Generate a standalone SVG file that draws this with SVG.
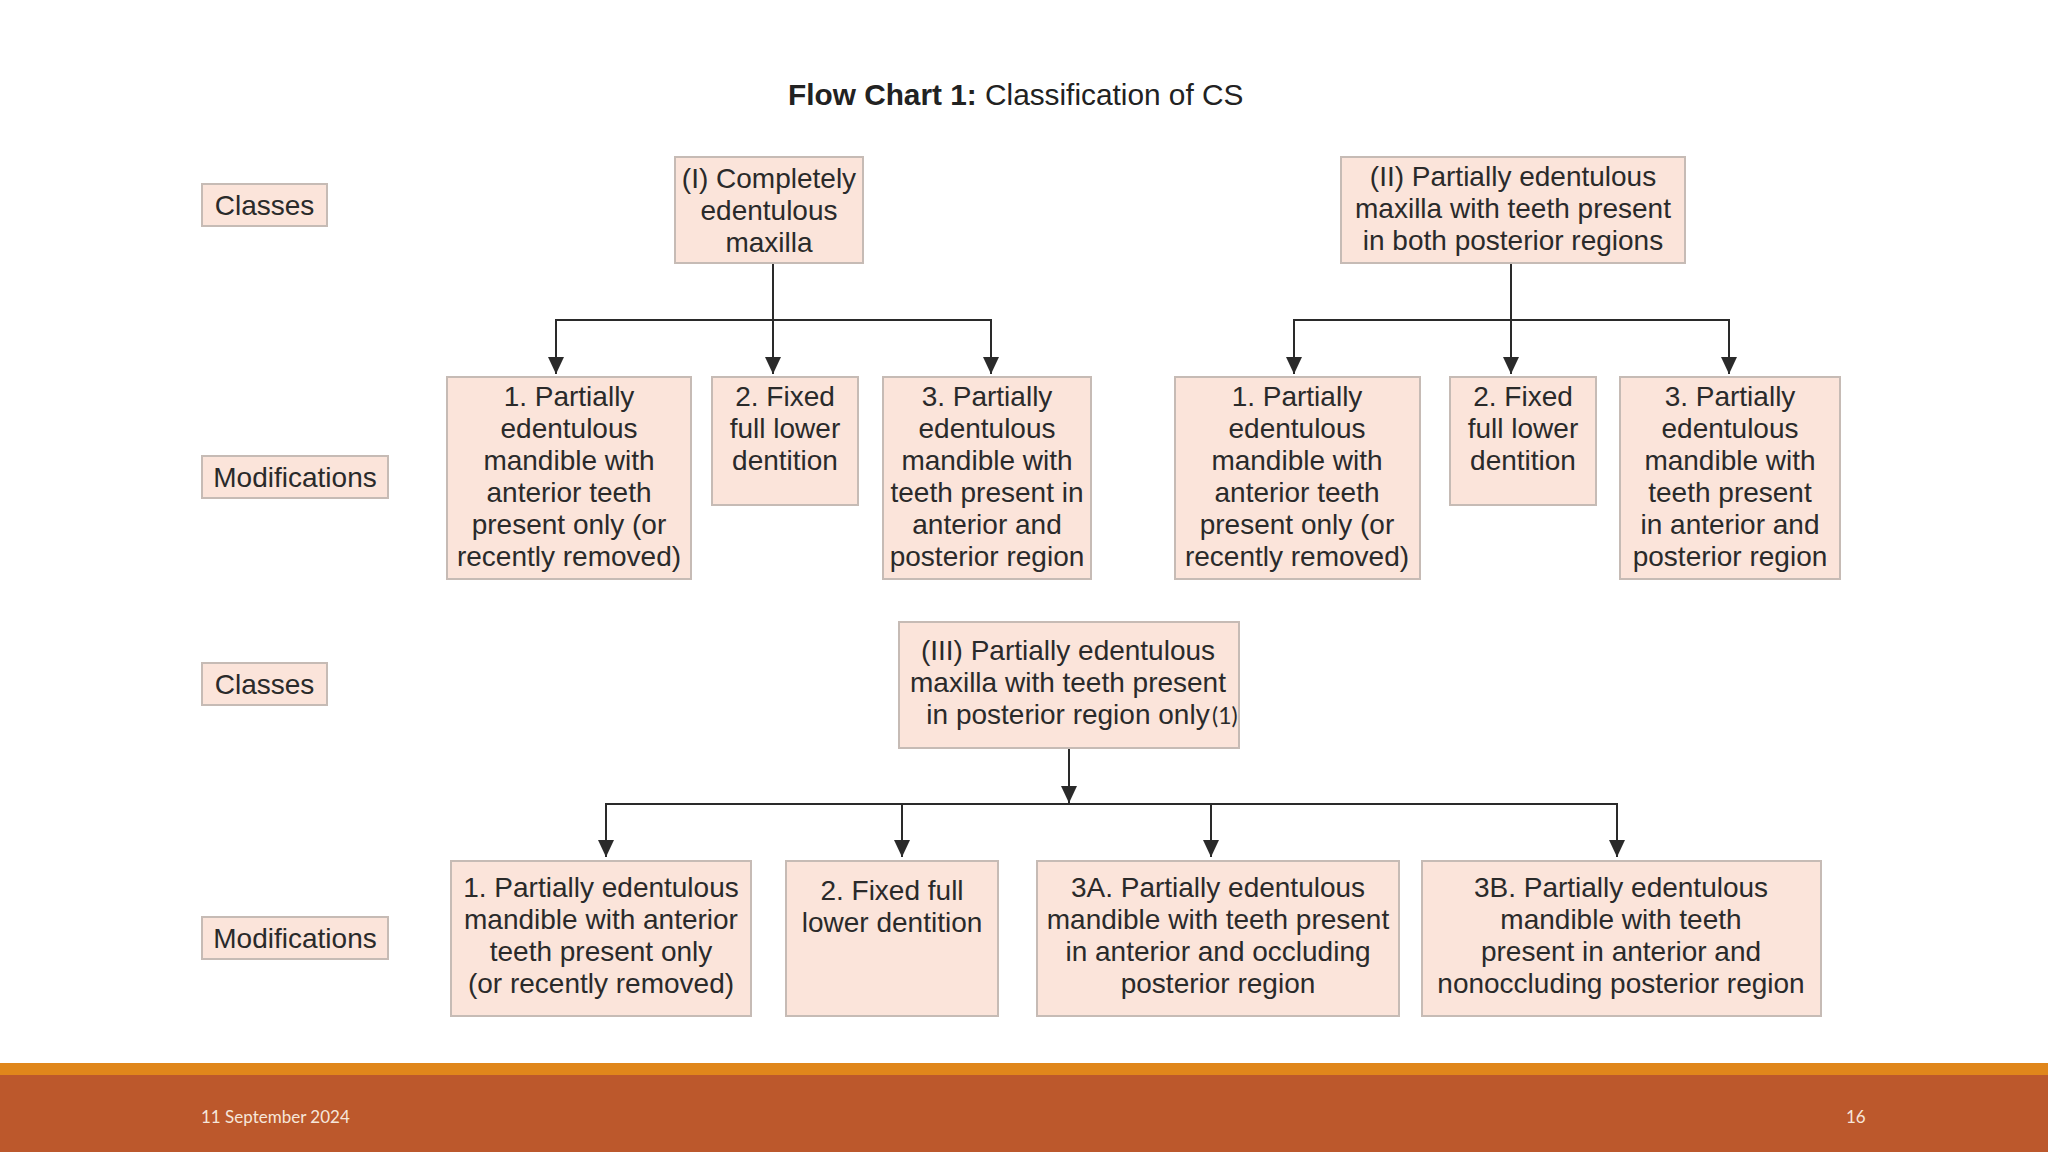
<svg xmlns="http://www.w3.org/2000/svg" width="2048" height="1152" viewBox="0 0 2048 1152">
<defs>
<style>
.box{fill:#FBE4DA;stroke:#C6BBB5;stroke-width:2}
.lbl{fill:#FBE4DA;stroke:#C6BBB5;stroke-width:2}
.t{font-family:"Liberation Sans",Arial,sans-serif;font-size:28px;fill:#2a2a2a;text-anchor:middle}
.conn{fill:none;stroke:#2a2a2a;stroke-width:2}
.title{font-family:"Liberation Sans",Arial,sans-serif;font-size:29.8px;fill:#222}
.foot{font-family:Lato,"Open Sans",sans-serif;font-size:17px;fill:#F6E6DA}
</style>
<marker id="arr" viewBox="0 0 17 16" refX="17" refY="8" markerWidth="17" markerHeight="16" markerUnits="userSpaceOnUse" orient="auto">
<path d="M0,0 L17,8 L0,16 Z" fill="#2a2a2a"/>
</marker>
</defs>
<rect width="2048" height="1152" fill="#ffffff"/>

<text class="title" x="788" y="105"><tspan font-weight="bold">Flow Chart 1:</tspan> Classification of CS</text>

<g id="label-classes-1"><rect class="lbl" x="202" y="184" width="125" height="42"/><text class="t" x="264.5" y="215">Classes</text></g>
<g id="label-mod-1"><rect class="lbl" x="202" y="456" width="186" height="42"/><text class="t" x="295" y="487">Modifications</text></g>
<g id="label-classes-2"><rect class="lbl" x="202" y="663" width="125" height="42"/><text class="t" x="264.5" y="694">Classes</text></g>
<g id="label-mod-2"><rect class="lbl" x="202" y="917" width="186" height="42"/><text class="t" x="295" y="948">Modifications</text></g>

<g id="connectors">
<line class="conn" x1="773" y1="263" x2="773" y2="374" marker-end="url(#arr)"/>
<polyline class="conn" points="556,374 556,320 991,320 991,374"/>
<line class="conn" x1="556" y1="330" x2="556" y2="374" marker-end="url(#arr)"/>
<line class="conn" x1="991" y1="330" x2="991" y2="374" marker-end="url(#arr)"/>

<line class="conn" x1="1511" y1="263" x2="1511" y2="374" marker-end="url(#arr)"/>
<polyline class="conn" points="1294,374 1294,320 1729,320 1729,374"/>
<line class="conn" x1="1294" y1="330" x2="1294" y2="374" marker-end="url(#arr)"/>
<line class="conn" x1="1729" y1="330" x2="1729" y2="374" marker-end="url(#arr)"/>

<line class="conn" x1="1069" y1="748" x2="1069" y2="803" marker-end="url(#arr)"/>
<polyline class="conn" points="606,857 606,804 1617,804 1617,857"/>
<line class="conn" x1="606" y1="815" x2="606" y2="857" marker-end="url(#arr)"/>
<line class="conn" x1="902" y1="804" x2="902" y2="857" marker-end="url(#arr)"/>
<line class="conn" x1="1211" y1="804" x2="1211" y2="857" marker-end="url(#arr)"/>
<line class="conn" x1="1617" y1="815" x2="1617" y2="857" marker-end="url(#arr)"/>
</g>

<g id="class-I"><rect class="box" x="675" y="157" width="188" height="106"/>
<text class="t"><tspan x="769" y="188">(I) Completely</tspan><tspan x="769" y="220">edentulous</tspan><tspan x="769" y="252">maxilla</tspan></text></g>

<g id="class-II"><rect class="box" x="1341" y="157" width="344" height="106"/>
<text class="t"><tspan x="1513" y="186">(II) Partially edentulous</tspan><tspan x="1513" y="218">maxilla with teeth present</tspan><tspan x="1513" y="250">in both posterior regions</tspan></text></g>

<g id="I-mod-1"><rect class="box" x="447" y="377" width="244" height="202"/>
<text class="t"><tspan x="569" y="406">1. Partially</tspan><tspan x="569" y="438">edentulous</tspan><tspan x="569" y="470">mandible with</tspan><tspan x="569" y="502">anterior teeth</tspan><tspan x="569" y="534">present only (or</tspan><tspan x="569" y="566">recently removed)</tspan></text></g>

<g id="I-mod-2"><rect class="box" x="712" y="377" width="146" height="128"/>
<text class="t"><tspan x="785" y="406">2. Fixed</tspan><tspan x="785" y="438">full lower</tspan><tspan x="785" y="470">dentition</tspan></text></g>

<g id="I-mod-3"><rect class="box" x="883" y="377" width="208" height="202"/>
<text class="t"><tspan x="987" y="406">3. Partially</tspan><tspan x="987" y="438">edentulous</tspan><tspan x="987" y="470">mandible with</tspan><tspan x="987" y="502">teeth present in</tspan><tspan x="987" y="534">anterior and</tspan><tspan x="987" y="566">posterior region</tspan></text></g>

<g id="II-mod-1"><rect class="box" x="1175" y="377" width="245" height="202"/>
<text class="t"><tspan x="1297" y="406">1. Partially</tspan><tspan x="1297" y="438">edentulous</tspan><tspan x="1297" y="470">mandible with</tspan><tspan x="1297" y="502">anterior teeth</tspan><tspan x="1297" y="534">present only (or</tspan><tspan x="1297" y="566">recently removed)</tspan></text></g>

<g id="II-mod-2"><rect class="box" x="1450" y="377" width="146" height="128"/>
<text class="t"><tspan x="1523" y="406">2. Fixed</tspan><tspan x="1523" y="438">full lower</tspan><tspan x="1523" y="470">dentition</tspan></text></g>

<g id="II-mod-3"><rect class="box" x="1620" y="377" width="220" height="202"/>
<text class="t"><tspan x="1730" y="406">3. Partially</tspan><tspan x="1730" y="438">edentulous</tspan><tspan x="1730" y="470">mandible with</tspan><tspan x="1730" y="502">teeth present</tspan><tspan x="1730" y="534">in anterior and</tspan><tspan x="1730" y="566">posterior region</tspan></text></g>

<g id="class-III"><rect class="box" x="899" y="622" width="340" height="126"/>
<text class="t"><tspan x="1068" y="660">(III) Partially edentulous</tspan><tspan x="1068" y="692">maxilla with teeth present</tspan><tspan x="1068" y="724">in posterior region only</tspan></text>
<text x="1212" y="724" style="font-family:Lato,'Open Sans',sans-serif;font-size:23px;fill:#2a2a2a">(1)</text></g>

<g id="III-mod-1"><rect class="box" x="451" y="861" width="300" height="155"/>
<text class="t"><tspan x="601" y="897">1. Partially edentulous</tspan><tspan x="601" y="929">mandible with anterior</tspan><tspan x="601" y="961">teeth present only</tspan><tspan x="601" y="993">(or recently removed)</tspan></text></g>

<g id="III-mod-2"><rect class="box" x="786" y="861" width="212" height="155"/>
<text class="t"><tspan x="892" y="900">2. Fixed full</tspan><tspan x="892" y="932">lower dentition</tspan></text></g>

<g id="III-mod-3A"><rect class="box" x="1037" y="861" width="362" height="155"/>
<text class="t"><tspan x="1218" y="897">3A. Partially edentulous</tspan><tspan x="1218" y="929">mandible with teeth present</tspan><tspan x="1218" y="961">in anterior and occluding</tspan><tspan x="1218" y="993">posterior region</tspan></text></g>

<g id="III-mod-3B"><rect class="box" x="1422" y="861" width="399" height="155"/>
<text class="t"><tspan x="1621" y="897">3B. Partially edentulous</tspan><tspan x="1621" y="929">mandible with teeth</tspan><tspan x="1621" y="961">present in anterior and</tspan><tspan x="1621" y="993">nonoccluding posterior region</tspan></text></g>

<rect x="0" y="1063" width="2048" height="12" fill="#E0861B"/>
<rect x="0" y="1075" width="2048" height="77" fill="#BC582C"/>
<text class="foot" x="201" y="1123">11 September 2024</text>
<text class="foot" x="1846" y="1123">16</text>
</svg>
